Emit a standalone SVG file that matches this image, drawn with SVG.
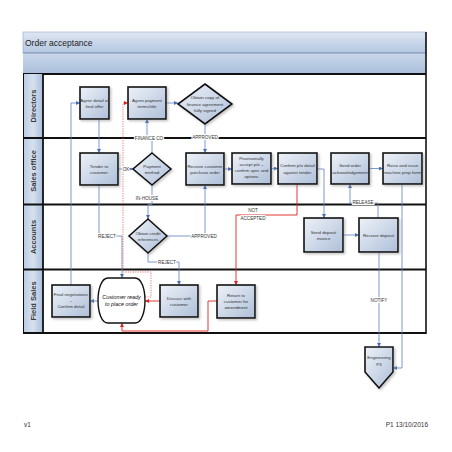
<svg xmlns="http://www.w3.org/2000/svg" width="452" height="452" viewBox="0 0 452 452">
<defs>
<linearGradient id="gNode" x1="0" y1="0" x2="1" y2="1"><stop offset="0" stop-color="#eef2f8"/><stop offset="1" stop-color="#aebfd9"/></linearGradient>
<linearGradient id="gBar" x1="0" y1="0" x2="0" y2="1"><stop offset="0" stop-color="#dfe7f2"/><stop offset="1" stop-color="#b3c6e1"/></linearGradient>
<linearGradient id="gBar2" x1="0" y1="0" x2="0" y2="1"><stop offset="0" stop-color="#c9d7ea"/><stop offset="1" stop-color="#aabfdc"/></linearGradient>
<linearGradient id="gLane" x1="0" y1="0" x2="1" y2="0"><stop offset="0" stop-color="#b9cbe3"/><stop offset="0.5" stop-color="#d6e1ef"/><stop offset="1" stop-color="#a9bedb"/></linearGradient>
<filter id="sh" x="-20%" y="-20%" width="150%" height="150%"><feDropShadow dx="1.5" dy="1.5" stdDeviation="0.8" flood-color="#888" flood-opacity="0.5"/></filter>
<marker id="ab" viewBox="0 0 6 6" refX="6" refY="3" markerWidth="4" markerHeight="4" markerUnits="userSpaceOnUse" orient="auto"><path d="M0,0 L6,3 L0,6 z" fill="#4a6fb5"/></marker>
<marker id="ar" viewBox="0 0 6 6" refX="6" refY="3" markerWidth="4" markerHeight="4" markerUnits="userSpaceOnUse" orient="auto"><path d="M0,0 L6,3 L0,6 z" fill="#e02020"/></marker>
</defs>
<style>
.node{fill:url(#gNode);stroke:#111;stroke-width:1.6;filter:url(#sh)}
.t{font-family:"Liberation Sans",Arial,sans-serif;font-size:4.4px;fill:#333;text-anchor:middle}
.lbl{font-family:"Liberation Sans",Arial,sans-serif;font-size:4.6px;fill:#333;text-anchor:middle;stroke:#fff;stroke-width:2.2;paint-order:stroke}
.lane{font-family:"Liberation Sans",Arial,sans-serif;font-size:7.5px;font-weight:bold;fill:#3a3a3a;text-anchor:middle}
.c{fill:none;stroke:#5b7fc0;stroke-width:0.8}
.cr{fill:none;stroke:#e02020;stroke-width:0.9}
.cd{fill:none;stroke:#e04040;stroke-width:0.7;stroke-dasharray:1.2 1.2}
.sep{stroke:#111;stroke-width:1.8}
</style>
<rect width="452" height="452" fill="#fff"/>
<g id="frame">
<rect x="23" y="32" width="403" height="21" fill="url(#gBar)" stroke="#8fa6c8" stroke-width="0.6"/>
<rect x="23" y="53" width="403" height="21" fill="url(#gBar2)"/>
<line x1="23" y1="53" x2="426" y2="53" stroke="#6f86aa" stroke-width="0.8"/>
<line x1="23" y1="74" x2="426" y2="74" class="sep"/>
<rect x="23" y="74" width="20" height="259" fill="url(#gLane)"/>
<line x1="43" y1="74" x2="43" y2="333" class="sep"/>
<line x1="23.5" y1="74" x2="23.5" y2="333" stroke="#111" stroke-width="1"/>
<line x1="23" y1="138" x2="426" y2="138" class="sep"/>
<line x1="23" y1="204.5" x2="426" y2="204.5" class="sep"/>
<line x1="23" y1="269.5" x2="426" y2="269.5" class="sep"/>
<line x1="23" y1="333" x2="426" y2="333" class="sep"/>
<line x1="426" y1="32" x2="426" y2="334" stroke="#111" stroke-width="1.6"/>
<text x="25" y="46" font-family="'Liberation Sans',Arial,sans-serif" font-size="8.5" fill="#222">Order acceptance</text>
<text class="lane" transform="translate(36,106) rotate(-90)">Directors</text>
<text class="lane" transform="translate(36,171) rotate(-90)">Sales office</text>
<text class="lane" transform="translate(36,237) rotate(-90)">Accounts</text>
<text class="lane" transform="translate(36,301) rotate(-90)">Field Sales</text>
</g>
<g id="connectors">
<path class="c" d="M71,285 V103 H80" marker-end="url(#ab)"/>
<path class="c" d="M99,119 V153" marker-end="url(#ab)"/>
<path class="c" d="M118,169 H133" marker-end="url(#ab)"/>
<path class="c" d="M99,185 V236 H122 V278" marker-end="url(#ab)"/>
<path class="c" d="M152,153 V138 H147 V119" marker-end="url(#ab)"/>
<path class="c" d="M166,103 H178" marker-end="url(#ab)"/>
<path class="c" d="M205,124 V153" marker-end="url(#ab)"/>
<path class="c" d="M152,185 V204.5 H148 V219" marker-end="url(#ab)"/>
<path class="c" d="M167,236 H205 V185" marker-end="url(#ab)"/>
<path class="c" d="M148,253 V262 H179 V285" marker-end="url(#ab)"/>
<path class="c" d="M224,169 H232" marker-end="url(#ab)"/>
<path class="c" d="M271,168.5 H278" marker-end="url(#ab)"/>
<path class="c" d="M317,169 H324 V218" marker-end="url(#ab)"/>
<path class="c" d="M343,235 H359" marker-end="url(#ab)"/>
<path class="c" d="M378,218 V203 H350 V184" marker-end="url(#ab)"/>
<path class="c" d="M369,168.5 H383" marker-end="url(#ab)"/>
<path class="c" d="M379,252 V347" marker-end="url(#ab)"/>
<path class="c" d="M402,184 V368 H393" marker-end="url(#ab)"/>
<path class="c" d="M98,301 H90" marker-end="url(#ab)"/>
<path class="cr" d="M297,184 V215 H236 V285" marker-end="url(#ar)"/>
<path class="cr" d="M160,301 H145" marker-end="url(#ar)"/>
<path class="cr" d="M217,301 H208 V331 H122 V323" marker-end="url(#ar)"/>
<path class="cd" d="M145,297 H151 V272 H123 V103 H128" marker-end="url(#ar)"/>
<text class="lbl" x="126" y="170.6">OK</text>
<text class="lbl" x="107" y="237.6">REJECT</text>
<text class="lbl" x="149" y="139.6">FINANCE CO</text>
<text class="lbl" x="205" y="138.6">APPROVED</text>
<text class="lbl" x="147" y="200">IN-HOUSE</text>
<text class="lbl" x="204" y="237.6">APPROVED</text>
<text class="lbl" x="167" y="263.6">REJECT</text>
<text class="lbl" x="363" y="204">RELEASE</text>
<text class="lbl" x="379" y="301.5">NOTIFY</text>
<text class="lbl" x="253" y="212">NOT</text>
<text class="lbl" x="253" y="220">ACCEPTED</text>
</g>
<g id="n-agree-detail"><rect class="node" x="80" y="87" width="29" height="32"/><text class="t" x="94.5" y="102">Agree detail of</text><text class="t" x="94.5" y="108">final offer</text></g>
<g id="n-agree-payment"><rect class="node" x="128" y="87" width="38" height="32"/><text class="t" x="147" y="102">Agree payment</text><text class="t" x="147" y="108">terms/title</text></g>
<g id="n-obtain-copy"><polygon class="node" points="205,84 232,104 205,124 178,104"/><text class="t" x="205" y="99">Obtain copy of</text><text class="t" x="205" y="105.5">finance agreement</text><text class="t" x="205" y="112">fully signed</text></g>
<g id="n-tender"><rect class="node" x="80" y="153" width="38" height="32"/><text class="t" x="99" y="167.5">Tender to</text><text class="t" x="99" y="174">customer</text></g>
<g id="n-payment"><polygon class="node" points="152,153 171,169 152,185 133,169"/><text class="t" x="152" y="167.5">Payment</text><text class="t" x="152" y="174">method</text></g>
<g id="n-receive-po"><rect class="node" x="186" y="153" width="38" height="32"/><text class="t" x="205" y="167.5">Receive customer</text><text class="t" x="205" y="174">purchase order</text></g>
<g id="n-provisional"><rect class="node" x="232" y="153" width="39" height="31"/><text class="t" x="251.5" y="160">Provisionally</text><text class="t" x="251.5" y="166">accept p/o –</text><text class="t" x="251.5" y="172">confirm spec and</text><text class="t" x="251.5" y="178">options</text></g>
<g id="n-confirm"><rect class="node" x="278" y="153" width="39" height="31"/><text class="t" x="297.5" y="167">Confirm p/o detail</text><text class="t" x="297.5" y="173.5">against tender</text></g>
<g id="n-send-ack"><rect class="node" x="331" y="153" width="38" height="31"/><text class="t" x="350" y="167">Send order</text><text class="t" x="350" y="173.5">acknowledgement</text></g>
<g id="n-raise"><rect class="node" x="383" y="153" width="39" height="31"/><text class="t" x="402.5" y="167">Raise and issue</text><text class="t" x="402.5" y="173.5">machine prep form</text></g>
<g id="n-credit"><polygon class="node" points="148,219 167,236 148,253 129,236"/><text class="t" x="148" y="234.5">Obtain credit</text><text class="t" x="148" y="241">references</text></g>
<g id="n-send-invoice"><rect class="node" x="304" y="218" width="39" height="34"/><text class="t" x="323.5" y="233.5">Send deposit</text><text class="t" x="323.5" y="240">invoice</text></g>
<g id="n-receive-deposit"><rect class="node" x="359" y="218" width="39" height="34"/><text class="t" x="378.5" y="236.5">Receive deposit</text></g>
<g id="n-final-neg"><rect class="node" x="52" y="285" width="38" height="32"/><text class="t" x="71" y="296">Final negotiations</text><text class="t" x="71" y="302">–</text><text class="t" x="71" y="308">Confirm detail</text></g>
<g id="n-customer-ready"><path d="M108,278 H135 C148.3,278 148.3,323 135,323 H108 C94.7,323 94.7,278 108,278 Z" fill="#fff" stroke="#111" stroke-width="1.4"/><text x="121.5" y="298.5" font-family="'Liberation Sans',Arial,sans-serif" font-size="5.4" font-style="italic" fill="#111" text-anchor="middle">Customer ready</text><text x="121.5" y="306" font-family="'Liberation Sans',Arial,sans-serif" font-size="5.4" font-style="italic" fill="#111" text-anchor="middle">to place order</text></g>
<g id="n-discuss"><rect class="node" x="160" y="285" width="38" height="32"/><text class="t" x="179" y="299.5">Discuss with</text><text class="t" x="179" y="306">customer</text></g>
<g id="n-return"><rect class="node" x="217" y="285" width="38" height="33"/><text class="t" x="236" y="296.5">Return to</text><text class="t" x="236" y="302.5">customer for</text><text class="t" x="236" y="308.5">amendment</text></g>
<g id="n-engineering"><polygon class="node" points="365,347 393,347 393,372 379,388 365,372"/><text class="t" x="379" y="359">Engineering</text><text class="t" x="379" y="365.5">P3</text></g>
<text x="24" y="427" font-family="'Liberation Sans',Arial,sans-serif" font-size="6.5" fill="#333">v1</text>
<text x="428" y="427" font-family="'Liberation Sans',Arial,sans-serif" font-size="6.5" fill="#333" text-anchor="end">P1 13/10/2016</text>
</svg>
